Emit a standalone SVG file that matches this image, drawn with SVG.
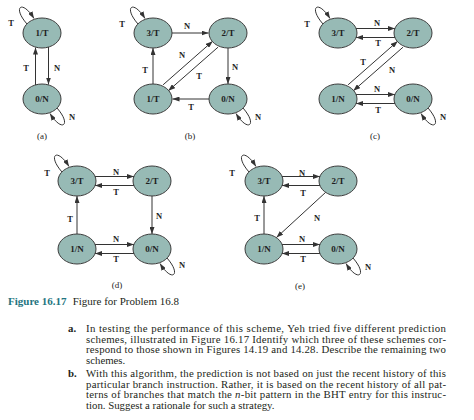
<svg xmlns="http://www.w3.org/2000/svg" width="474" height="420" viewBox="0 0 474 420">
<style>
.nd{fill:#97bab5;stroke:#3c3c3c;stroke-width:1}
.nl{font-family:"Liberation Serif",serif;font-weight:bold;font-size:9px;fill:#1e1e1e;text-anchor:middle}
.e{fill:none;stroke:#333;stroke-width:1;marker-end:url(#ah)}
.el{font-family:"Liberation Serif",serif;font-weight:bold;font-size:8.5px;fill:#1e1e1e;text-anchor:middle}
.sl{font-family:"Liberation Serif",serif;font-size:9px;fill:#222;text-anchor:middle}
.cap{font-family:"Liberation Serif",serif;font-size:11px;fill:#231f20}
.capb{font-weight:bold;fill:#237480}
.p{font-family:"Liberation Serif",serif;font-size:10.8px;fill:#231f20}
</style>
<defs>
<marker id="ah" markerUnits="userSpaceOnUse" markerWidth="7" markerHeight="5" refX="7" refY="2.5" orient="auto">
<path d="M0,0 L7,2.5 L0,5 z" fill="#333"/>
</marker>
</defs>
<rect width="474" height="420" fill="#fff"/>

<g id="connectors">
<!-- (a) -->
<path class="e" d="M27,24 C12,7 22,-1 34,18.5"/>
<path class="e" d="M35.5,85 L35.5,47.5"/>
<path class="e" d="M48.5,47 L48.5,84.5"/>
<path class="e" d="M57,108 C72,125 62,133 50,113.5"/>
<!-- (b) -->
<path class="e" d="M138,24 C123,7 133,-1 145,18.5"/>
<path class="e" d="M172,33 L208.5,33"/>
<path class="e" d="M228,48 L228,84"/>
<path class="e" d="M209,99 L172.5,99"/>
<path class="e" d="M153,84 L153,48"/>
<path class="e" d="M163.1,84.8 L212.7,41.2"/>
<path class="e" d="M218,47.2 L168.3,90.8"/>
<path class="e" d="M243,108 C258,125 248,133 236,113.5"/>
<!-- (c) -->
<path class="e" d="M323,24 C308,7 318,-1 330,18.5"/>
<path class="e" d="M356,28.5 L395,28.5"/>
<path class="e" d="M395,37.5 L356,37.5"/>
<path class="e" d="M348.1,84.8 L397.7,41.2"/>
<path class="e" d="M403,47.2 L353.3,90.8"/>
<path class="e" d="M356,94.5 L395,94.5"/>
<path class="e" d="M395,103.5 L356,103.5"/>
<path class="e" d="M428,108 C443,125 433,133 421,113.5"/>
<!-- (d) -->
<path class="e" d="M62,172 C47,155 57,147 69,166.5"/>
<path class="e" d="M95,176.5 L134,176.5"/>
<path class="e" d="M134,185.5 L95,185.5"/>
<path class="e" d="M152,196 L152,234"/>
<path class="e" d="M77,234 L77,196"/>
<path class="e" d="M95,244.5 L134,244.5"/>
<path class="e" d="M134,253.5 L95,253.5"/>
<path class="e" d="M167,258 C182,275 172,283 160,263.5"/>
<!-- (e) -->
<path class="e" d="M249,172 C234,155 244,147 256,166.5"/>
<path class="e" d="M282,176.5 L320,176.5"/>
<path class="e" d="M320,185.5 L282,185.5"/>
<path class="e" d="M325.6,192.4 L276.4,237.6"/>
<path class="e" d="M264,234 L264,196"/>
<path class="e" d="M282,244.5 L320,244.5"/>
<path class="e" d="M320,253.5 L282,253.5"/>
<path class="e" d="M353,258 C368,275 358,283 346,263.5"/>
</g>

<g id="edge-labels">
<text class="el" x="11" y="26">T</text>
<text class="el" x="26" y="71">T</text>
<text class="el" x="57" y="71">N</text>
<text class="el" x="72" y="120">N</text>

<text class="el" x="122" y="27">T</text>
<text class="el" x="187" y="29">N</text>
<text class="el" x="235" y="70">N</text>
<text class="el" x="191" y="110">T</text>
<text class="el" x="145" y="73">T</text>
<text class="el" x="182" y="58">N</text>
<text class="el" x="199" y="79">T</text>
<text class="el" x="258" y="120">N</text>

<text class="el" x="307" y="27">T</text>
<text class="el" x="377" y="26">N</text>
<text class="el" x="378" y="46">T</text>
<text class="el" x="363" y="65">T</text>
<text class="el" x="392" y="73">N</text>
<text class="el" x="377" y="92">N</text>
<text class="el" x="378" y="113">T</text>
<text class="el" x="443" y="120">N</text>

<text class="el" x="47" y="176">T</text>
<text class="el" x="116" y="175">N</text>
<text class="el" x="116" y="195">T</text>
<text class="el" x="159" y="219">N</text>
<text class="el" x="70" y="222">T</text>
<text class="el" x="116" y="242">N</text>
<text class="el" x="116" y="262">T</text>
<text class="el" x="182" y="268">N</text>

<text class="el" x="232" y="176">T</text>
<text class="el" x="302" y="176">N</text>
<text class="el" x="303" y="196">T</text>
<text class="el" x="317" y="221">N</text>
<text class="el" x="257" y="221">T</text>
<text class="el" x="302" y="242">N</text>
<text class="el" x="303" y="262">T</text>
<text class="el" x="368" y="270">N</text>
</g>

<g id="a-1T"><ellipse class="nd" cx="42" cy="33" rx="19" ry="15"/><text class="nl" x="42" y="36">1/T</text></g>
<g id="a-0N"><ellipse class="nd" cx="42" cy="99" rx="19" ry="15"/><text class="nl" x="42" y="102">0/N</text></g>

<g id="b-3T"><ellipse class="nd" cx="153" cy="33" rx="19" ry="15"/><text class="nl" x="153" y="36">3/T</text></g>
<g id="b-2T"><ellipse class="nd" cx="228" cy="33" rx="19" ry="15"/><text class="nl" x="228" y="36">2/T</text></g>
<g id="b-1T"><ellipse class="nd" cx="153" cy="99" rx="19" ry="15"/><text class="nl" x="153" y="102">1/T</text></g>
<g id="b-0N"><ellipse class="nd" cx="228" cy="99" rx="19" ry="15"/><text class="nl" x="228" y="102">0/N</text></g>

<g id="c-3T"><ellipse class="nd" cx="338" cy="33" rx="19" ry="15"/><text class="nl" x="338" y="36">3/T</text></g>
<g id="c-2T"><ellipse class="nd" cx="413" cy="33" rx="19" ry="15"/><text class="nl" x="413" y="36">2/T</text></g>
<g id="c-1N"><ellipse class="nd" cx="338" cy="99" rx="19" ry="15"/><text class="nl" x="338" y="102">1/N</text></g>
<g id="c-0N"><ellipse class="nd" cx="413" cy="99" rx="19" ry="15"/><text class="nl" x="413" y="102">0/N</text></g>

<g id="d-3T"><ellipse class="nd" cx="77" cy="181" rx="19" ry="15"/><text class="nl" x="77" y="184">3/T</text></g>
<g id="d-2T"><ellipse class="nd" cx="152" cy="181" rx="19" ry="15"/><text class="nl" x="152" y="184">2/T</text></g>
<g id="d-1N"><ellipse class="nd" cx="77" cy="249" rx="19" ry="15"/><text class="nl" x="77" y="252">1/N</text></g>
<g id="d-0N"><ellipse class="nd" cx="152" cy="249" rx="19" ry="15"/><text class="nl" x="152" y="252">0/N</text></g>

<g id="e-3T"><ellipse class="nd" cx="264" cy="181" rx="19" ry="15"/><text class="nl" x="264" y="184">3/T</text></g>
<g id="e-2T"><ellipse class="nd" cx="338" cy="181" rx="19" ry="15"/><text class="nl" x="338" y="184">2/T</text></g>
<g id="e-1N"><ellipse class="nd" cx="264" cy="249" rx="19" ry="15"/><text class="nl" x="264" y="252">1/N</text></g>
<g id="e-0N"><ellipse class="nd" cx="338" cy="249" rx="19" ry="15"/><text class="nl" x="338" y="252">0/N</text></g>

<g id="sublabels">
<text class="sl" x="42" y="139">(a)</text>
<text class="sl" x="190" y="139">(b)</text>
<text class="sl" x="375" y="139">(c)</text>
<text class="sl" x="117" y="288">(d)</text>
<text class="sl" x="300" y="289">(e)</text>
</g>

<g id="caption">
<text class="cap" x="8" y="305"><tspan class="capb">Figure 16.17</tspan></text>
<text class="cap" x="72.7" y="305">Figure for Problem 16.8</text>
</g>

<g id="text">
<text class="p capb" x="68" y="332" style="font-weight:bold">a.</text>
<text class="p" x="86" y="332" textLength="360" lengthAdjust="spacing">In testing the performance of this scheme, Yeh tried five different prediction</text>
<text class="p" x="86" y="342.5" textLength="360" lengthAdjust="spacing">schemes, illustrated in Figure 16.17 Identify which three of these schemes cor-</text>
<text class="p" x="86" y="353" textLength="360" lengthAdjust="spacing">respond to those shown in Figures 14.19 and 14.28. Describe the remaining two</text>
<text class="p" x="86" y="363.5">schemes.</text>
<text class="p capb" x="68" y="377" style="font-weight:bold">b.</text>
<text class="p" x="86" y="377" textLength="360" lengthAdjust="spacing">With this algorithm, the prediction is not based on just the recent history of this</text>
<text class="p" x="86" y="387.5" textLength="360" lengthAdjust="spacing">particular branch instruction. Rather, it is based on the recent history of all pat-</text>
<text class="p" x="86" y="398" textLength="360" lengthAdjust="spacing">terns of branches that match the <tspan font-style="italic">n</tspan>-bit pattern in the BHT entry for this instruc-</text>
<text class="p" x="86" y="408.5">tion. Suggest a rationale for such a strategy.</text>
</g>
</svg>
